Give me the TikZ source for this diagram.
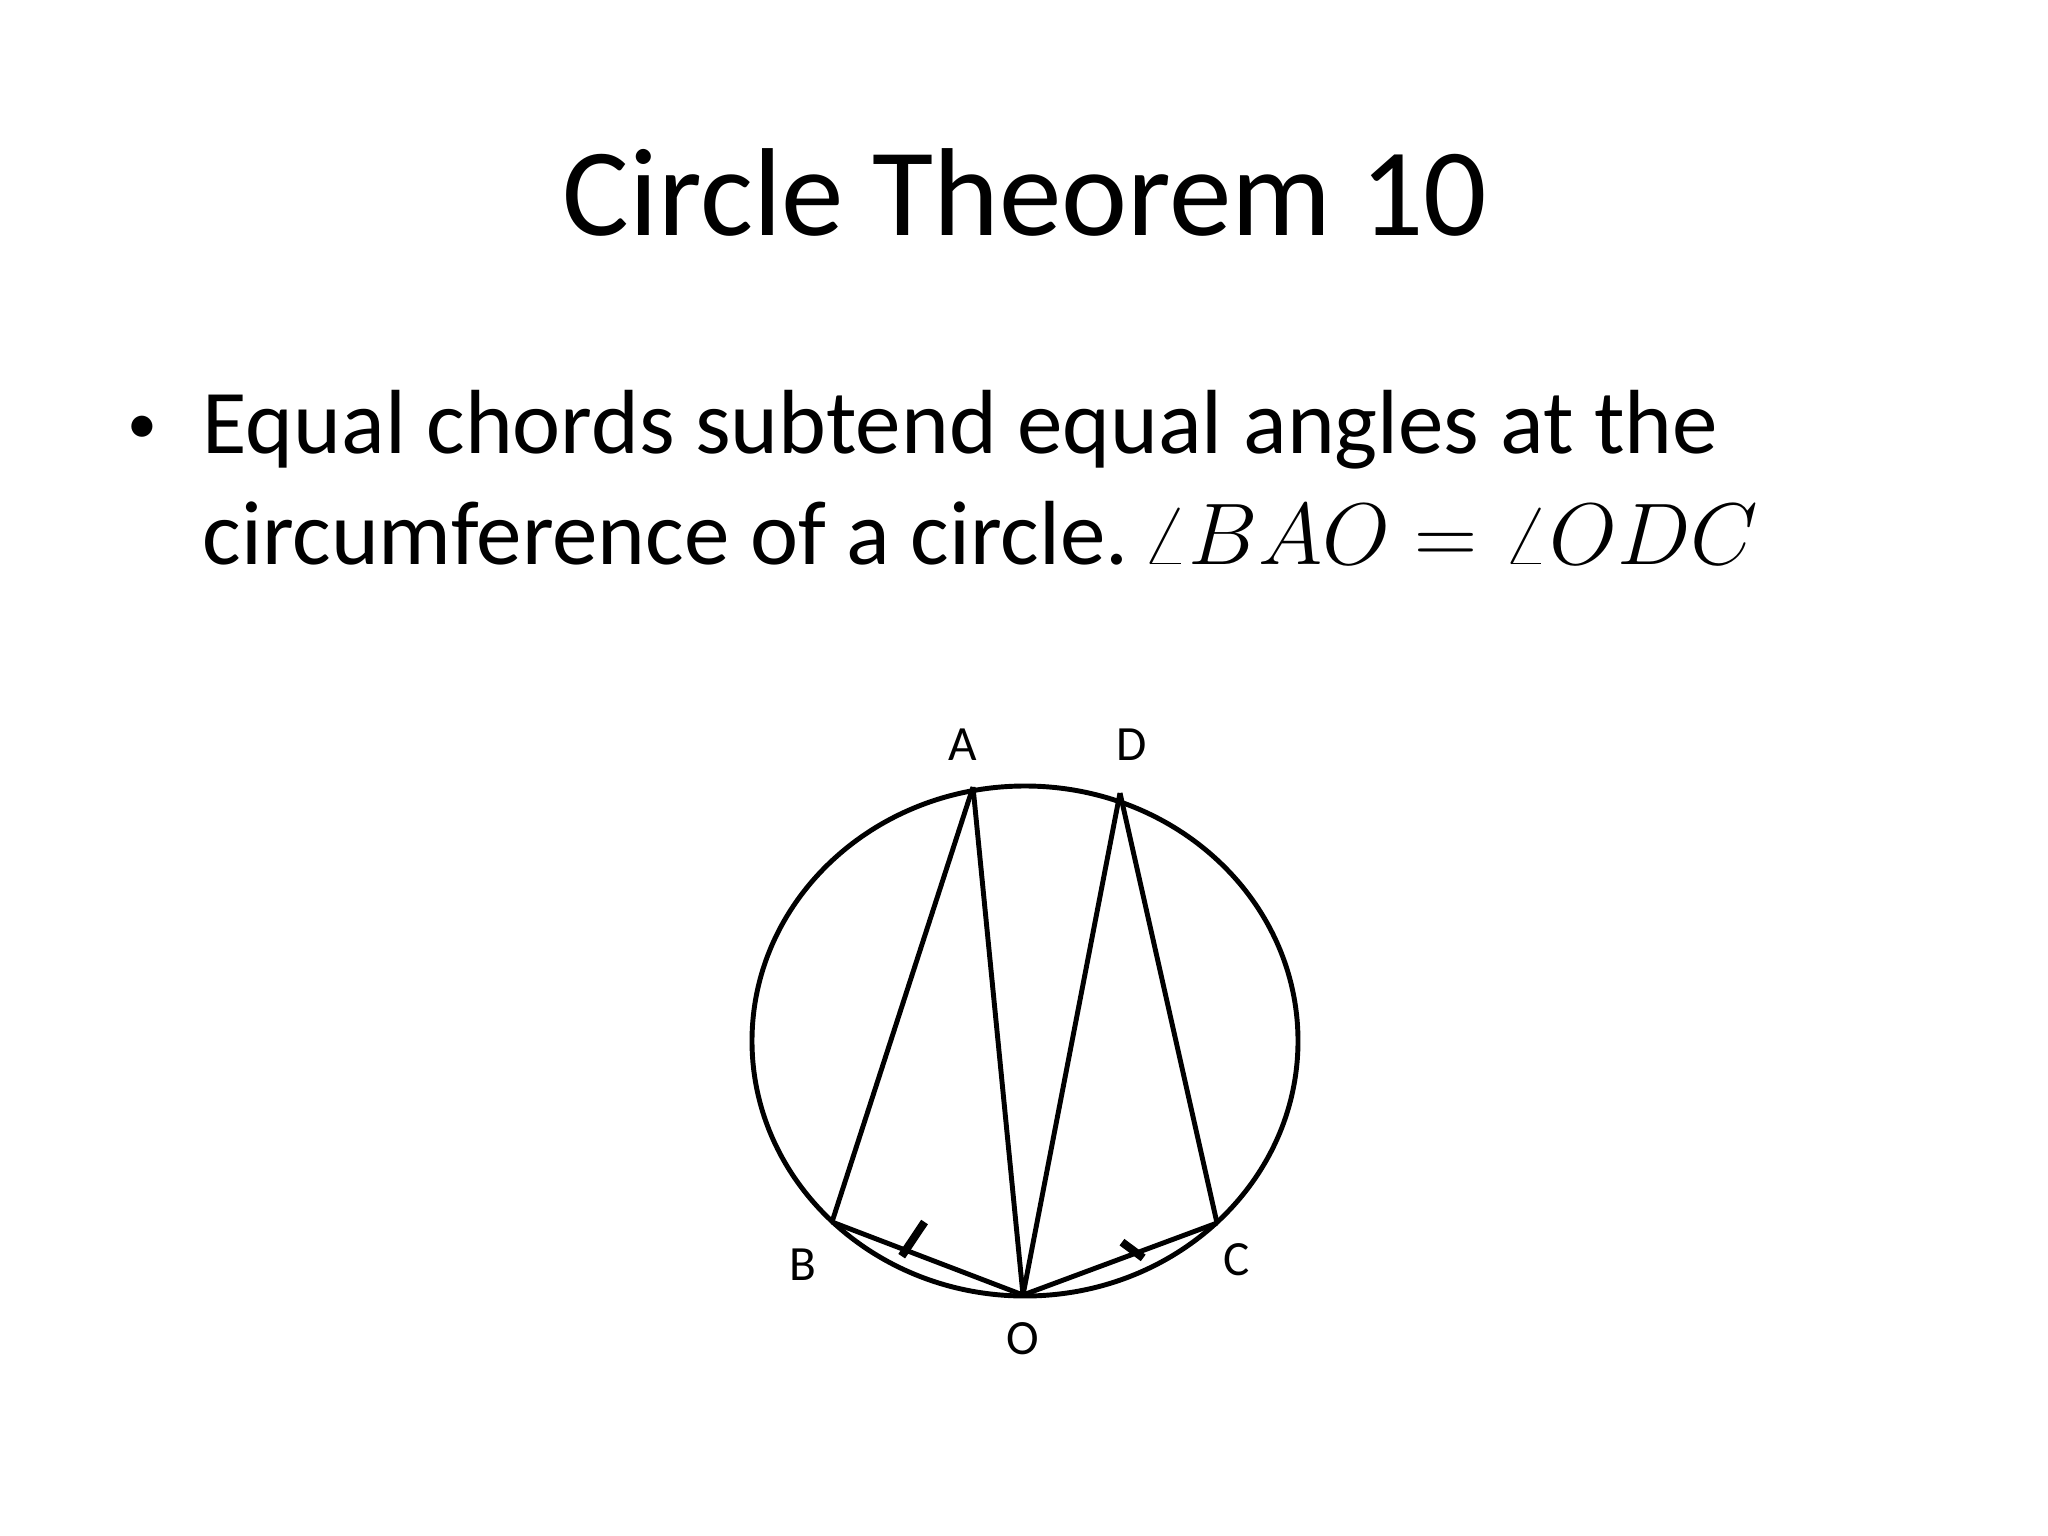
\documentclass[tikz,border=0pt]{standalone}
\usepackage{fontspec}
\setmainfont{Carlito}
\usepackage{tikz}
\usetikzlibrary{positioning, calc, decorations.markings}

\begin{document}
\begin{tikzpicture}[x=0.01cm, y=-0.01cm, line join=round]
        \tikzset{chord/.style={line width=1.4pt}}
        \tikzset{ptlabel/.style={font=\fontsize{14}{16}\selectfont, inner sep=0pt}}
        % Define the equal-chord mark
        \tikzset{eqmark/.style n args={2}{decoration={markings,
            mark=at position #1 with {\draw[line width=2.3pt] #2;}},
            postaction={decorate}}}

        \useasboundingbox (0,0) rectangle (2048,1536);

        \node[anchor=base, font=\fontsize{35.6}{40}\selectfont, inner sep=0pt] (title) at (1025,235) {Circle Theorem 10};
        \node[font=\fontsize{17}{20}\selectfont, inner sep=0pt] (dot) at (142,430) {\textbullet};
        \node[anchor=base west, font=\fontsize{25.9}{30}\selectfont, inner sep=0pt] (line1) at (202,453) {Equal chords subtend equal angles at the};
        \node[anchor=base west, font=\fontsize{25.9}{30}\selectfont, inner sep=0pt] (line2) at (202,564) {circumference of a circle.\hspace{-4pt} $\angle BAO=\angle ODC$};

        % the circle and the points on it
        \coordinate (ctr) at (1025,1041);
        \draw[chord] (ctr) ellipse [x radius=273, y radius=255];
        \coordinate (A) at (973,787);
        \coordinate (D) at (1120,793);
        \coordinate (B) at (832,1222);
        \coordinate (C) at (1217,1223);
        \coordinate (O) at (1023,1295);

        \node[ptlabel] (la) at (963,745) {A};
        \node[ptlabel] (ld) at (1132,745) {D};
        \node[ptlabel] (lb) at (803,1265) {B};
        \node[ptlabel] (lc) at (1237,1260) {C};
        \node[ptlabel] (lo) at (1023,1339) {O};

        \path[chord]
        (A) edge (B)
        (A) edge (O)
        (D) edge (O)
        (D) edge (C);
        \draw[chord, eqmark={0.385}{(-0.4pt,-2pt) -- (2.2pt,9.4pt)}] (B) -- (O);
        \draw[chord, eqmark={0.585}{(1.3pt,-2pt) -- (-2.8pt,4.3pt)}] (O) -- (C);
    \end{tikzpicture}
\end{document}
